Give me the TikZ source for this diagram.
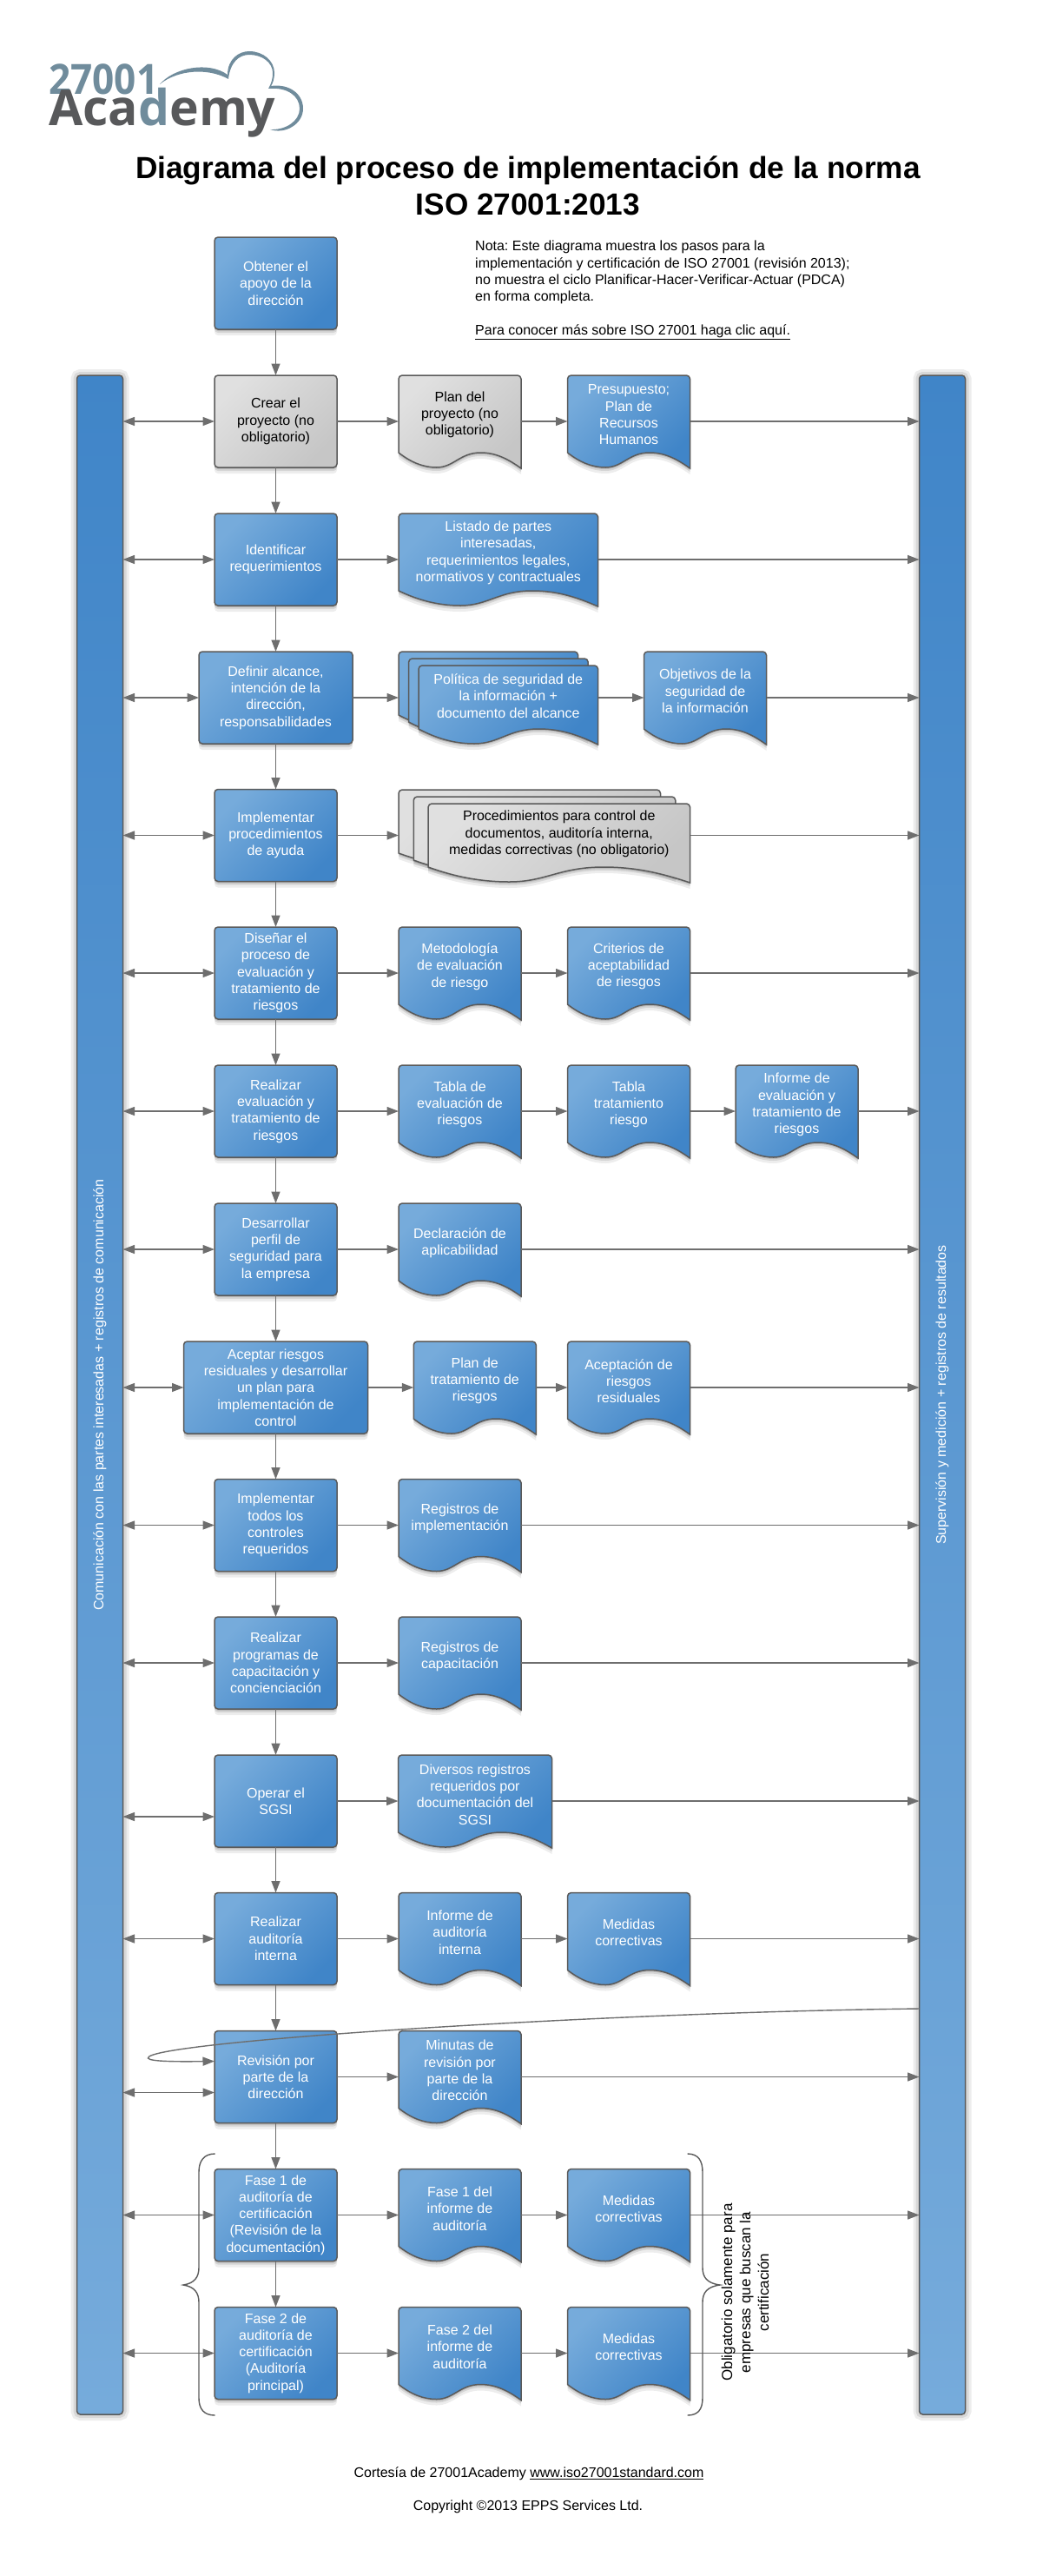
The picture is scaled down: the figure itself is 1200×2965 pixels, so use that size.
\documentclass[tikz,border=0pt]{standalone}
\usepackage{fontspec}
\usepackage{graphicx}
\setmainfont{Liberation Sans}
\newfontfamily\logofont{Open Sans}
\usetikzlibrary{shapes,arrows.meta,positioning,shadows}
\frenchspacing

\definecolor{bluelight}{HTML}{76ABDB}
\definecolor{bluedark}{HTML}{4085C8}
\definecolor{graylight}{HTML}{E0E0E0}
\definecolor{graydark}{HTML}{C6C6C6}
\definecolor{edgegray}{HTML}{5A5A5A}
\definecolor{linegray}{HTML}{6E6E6E}
\definecolor{logoblue}{HTML}{708C9C}
\definecolor{logogray}{HTML}{58595B}

\newdimen\docl
\newdimen\docr
\newdimen\doct
\newdimen\docb
\newdimen\docw
\newcommand{\docpt}[2]{\pgfqpoint{\dimexpr\docl+#1\docw\relax}{\dimexpr\docb+#2pt\relax}}
\tikzset{doc lift/.initial=7.5pt}

\makeatletter
\pgfdeclareshape{wavedoc}{
  \inheritsavedanchors[from=rectangle]
  \inheritanchorborder[from=rectangle]
  \inheritanchor[from=rectangle]{center}
  \inheritanchor[from=rectangle]{north}
  \inheritanchor[from=rectangle]{south}
  \inheritanchor[from=rectangle]{east}
  \inheritanchor[from=rectangle]{west}
  \anchor{text}{
    \pgfqpoint{0pt}{\pgfkeysvalueof{/tikz/doc lift}}
  }
  \backgroundpath{
    \southwest \docl=\pgf@x \docb=\pgf@y
    \northeast \docr=\pgf@x \doct=\pgf@y
    \docw=\docr \advance\docw by -\docl
    \pgfpathmoveto{\docpt{0}{17}}
    \pgfpathlineto{\pgfqpoint{\docl}{\dimexpr\doct-4pt\relax}}
    \pgfpathcurveto{\pgfqpoint{\docl}{\dimexpr\doct-2pt\relax}}{\pgfqpoint{\dimexpr\docl+2pt\relax}{\doct}}{\pgfqpoint{\dimexpr\docl+4pt\relax}{\doct}}
    \pgfpathlineto{\pgfqpoint{\dimexpr\docr-4pt\relax}{\doct}}
    \pgfpathcurveto{\pgfqpoint{\dimexpr\docr-2pt\relax}{\doct}}{\pgfqpoint{\docr}{\dimexpr\doct-2pt\relax}}{\pgfqpoint{\docr}{\dimexpr\doct-4pt\relax}}
    \pgfpathlineto{\docpt{1}{-1}}
    \pgfpathcurveto{\docpt{.9}{9}}{\docpt{.8}{17}}{\docpt{.67}{17}}
    \pgfpathcurveto{\docpt{.5}{17}}{\docpt{.45}{0}}{\docpt{.31}{0}}
    \pgfpathcurveto{\docpt{.2}{0}}{\docpt{.1}{6}}{\docpt{0}{17}}
    \pgfpathclose
  }
}
\makeatother

\begin{document}
\begin{tikzpicture}[
    x=1pt, y=-1pt,
    softshadow/.style={
        drop shadow={shadow xshift=0pt, shadow yshift=-2pt, opacity=.12, fill=black},
        drop shadow={shadow xshift=0pt, shadow yshift=-4pt, opacity=.10, fill=black},
        drop shadow={shadow xshift=0pt, shadow yshift=-7pt, opacity=.07, fill=black}},
    boxtext/.style={font=\fontsize{16}{19.3}\selectfont, align=center, inner sep=0pt, outer sep=0pt},
    block/.style={rectangle, rounded corners=4pt, draw=edgegray, line width=1.5pt, minimum width=141pt, minimum height=106pt,
        boxtext, softshadow, text=white, left color=bluelight, right color=bluedark, shading angle=45},
    grayblock/.style={block, text=black, left color=graylight, right color=graydark, shading angle=45},
    docu/.style={wavedoc, draw=edgegray, line width=1.5pt, minimum width=141pt, minimum height=106pt,
        boxtext, softshadow, text=white, left color=bluelight, right color=bluedark, shading angle=45},
    graydocu/.style={docu, text=black, left color=graylight, right color=graydark, shading angle=45},
    sidebar/.style={rectangle, rounded corners=4pt, draw=edgegray, line width=1.5pt, minimum width=53pt, minimum height=2347pt,
        outer sep=0pt, top color=bluedark, bottom color=bluelight,
        preaction={draw=black, draw opacity=.07, line width=14pt},
        preaction={draw=black, draw opacity=.09, line width=8pt}},
    barlabel/.style={boxtext, rotate=90, text=white},
    arrow/.style={-{Triangle[length=13.5pt, width=10pt]}, draw=linegray, line width=1.4pt},
    biarrow/.style={{Triangle[length=13.5pt, width=10pt]}-{Triangle[length=13.5pt, width=10pt]}, draw=linegray, line width=1.4pt},
    bracket/.style={draw=edgegray, line width=1.4pt}
]
\useasboundingbox (0,0) rectangle (1200,2965);

% Logo
\fill[logoblue] (184,97) .. controls (200,78) and (240,70) .. (262,86) .. controls (262,68) and (275,59) .. (287,59)
    .. controls (303,59) and (316,70) .. (316,84) .. controls (316,91) and (314,96) .. (312,99)
    .. controls (333,96) and (349,108) .. (349,125) .. controls (349,143) and (328,155) .. (311,149)
    .. controls (328,150) and (345,140) .. (345,125) .. controls (345,110) and (330,100) .. (309,102)
    .. controls (313,95) and (314,90) .. (314,84) .. controls (314,72) and (302,63) .. (287,63)
    .. controls (275,63) and (265,72) .. (263,91) .. controls (240,78) and (205,80) .. (184,97);
\node[anchor=base west, inner sep=0pt, text=logoblue] (logonum) at (56,109)
    {\scalebox{.92}[1]{\logofont\bfseries\fontsize{48}{48}\selectfont 27001}};
\node[anchor=base west, inner sep=0pt, text=logogray] (logoname) at (56,145)
    {\logofont\bfseries\fontsize{57}{57}\selectfont Aca\textcolor{logoblue}{d}emy};

% Title and note
\node[font=\bfseries\fontsize{35.2}{42}\selectfont, align=center, inner sep=0pt] (title) at (608,214)
    {Diagrama del proceso de implementación de la norma\\ISO 27001:2013};
\node[anchor=north west, font=\fontsize{16}{19.3}\selectfont, align=left, inner sep=0pt] (nota) at (547,277)
    {Nota: Este diagrama muestra los pasos para la\\
     implementación y certificación de ISO 27001 (revisión 2013);\\
     no muestra el ciclo Planificar-Hacer-Verificar-Actuar (PDCA)\\
     en forma completa.\\[19.3pt]
     \underline{Para conocer más sobre ISO 27001 haga clic aquí.}};

% Side bars
\node[sidebar] (barl) at (115,1605.5) {};
\node[sidebar] (barr) at (1085,1605.5) {};
\node[barlabel] (barltext) at (barl) {Comunicación con las partes interesadas + registros de comunicación};
\node[barlabel] (barrtext) at (barr) {Supervisión y medición + registros de resultados};

% Process column
\node[block] (obtener) at (317.5,326) {Obtener el\\apoyo de la\\dirección};
\node[grayblock] (crear) at (317.5,485) {Crear el\\proyecto (no\\obligatorio)};
\node[block] (identificar) at (317.5,644) {Identificar\\requerimientos};
\node[block, minimum width=177pt] (definir) at (317.5,803) {Definir alcance,\\intención de la\\dirección,\\responsabilidades};
\node[block] (ayuda) at (317.5,961.5) {Implementar\\procedimientos\\de ayuda};
\node[block] (disenar) at (317.5,1120) {Diseñar el\\proceso de\\evaluación y\\tratamiento de\\riesgos};
\node[block] (realizar) at (317.5,1279) {Realizar\\evaluación y\\tratamiento de\\riesgos};
\node[block] (perfil) at (317.5,1438) {Desarrollar\\perfil de\\seguridad para\\la empresa};
\node[block, minimum width=212pt] (aceptar) at (317.5,1597) {Aceptar riesgos\\residuales y desarrollar\\un plan para\\implementación de\\control};
\node[block] (controles) at (317.5,1755.5) {Implementar\\todos los\\controles\\requeridos};
\node[block] (programas) at (317.5,1914) {Realizar\\programas de\\capacitación y\\concienciación};
\node[block] (operar) at (317.5,2073) {Operar el\\SGSI};
\node[block] (auditoria) at (317.5,2231.5) {Realizar\\auditoría\\interna};
\node[block] (revision) at (317.5,2390.5) {Revisión por\\parte de la\\dirección};
\node[block] (fase1) at (317.5,2549.5) {Fase 1 de\\auditoría de\\certificación\\(Revisión de la\\documentación)};
\node[block] (fase2) at (317.5,2708.5) {Fase 2 de\\auditoría de\\certificación\\(Auditoría\\principal)};

% Documents
\node[graydocu] (plan) at (529.5,485) {Plan del\\proyecto (no\\obligatorio)};
\node[docu] (presupuesto) at (724,485) {Presupuesto;\\Plan de\\Recursos\\Humanos};
\node[docu, minimum width=229.5pt] (listado) at (573.8,644) {Listado de partes\\interesadas,\\requerimientos legales,\\normativos y contractuales};
\node[docu, minimum width=206.6pt, minimum height=90pt] (politica1) at (562.3,795) {};
\node[docu, minimum width=206.6pt, minimum height=90pt] (politica2) at (573.9,803) {};
\node[docu, minimum width=206.6pt, minimum height=90pt, doc lift=10pt] (politica3) at (585.3,811) {Política de seguridad de\\la información +\\documento del alcance};
\node[docu] (objetivos) at (812,803) {Objetivos de la\\seguridad de\\la información};
\node[graydocu, minimum width=301.5pt, minimum height=90pt] (proced1) at (609.75,954) {};
\node[graydocu, minimum width=301.5pt, minimum height=90pt] (proced2) at (627,962) {};
\node[graydocu, minimum width=301.5pt, minimum height=90pt, doc lift=10pt] (proced3) at (643.8,970) {Procedimientos para control de\\documentos, auditoría interna,\\medidas correctivas (no obligatorio)};
\node[docu] (metodologia) at (529.5,1120) {Metodología\\de evaluación\\de riesgo};
\node[docu] (criterios) at (724,1120) {Criterios de\\aceptabilidad\\de riesgos};
\node[docu] (tablaeval) at (529.5,1279) {Tabla de\\evaluación de\\riesgos};
\node[docu] (tablatrat) at (724,1279) {Tabla\\tratamiento\\riesgo};
\node[docu] (informe) at (917.5,1279) {Informe de\\evaluación y\\tratamiento de\\riesgos};
\node[docu] (declaracion) at (529.5,1438) {Declaración de\\aplicabilidad};
\node[docu] (plantrat) at (546.75,1597) {Plan de\\tratamiento de\\riesgos};
\node[docu] (aceptacion) at (724,1597) {Aceptación de\\riesgos\\residuales};
\node[docu] (regimpl) at (529.5,1755.5) {Registros de\\implementación};
\node[docu] (regcap) at (529.5,1914) {Registros de\\capacitación};
\node[docu, minimum width=177pt] (diversos) at (547,2073) {Diversos registros\\requeridos por\\documentación del\\SGSI};
\node[docu] (infaudit) at (529.5,2231.5) {Informe de\\auditoría\\interna};
\node[docu] (medidas) at (724,2231.5) {Medidas\\correctivas};
\node[docu] (minutas) at (529.5,2390.5) {Minutas de\\revisión por\\parte de la\\dirección};
\node[docu] (inffase1) at (529.5,2549.5) {Fase 1 del\\informe de\\auditoría};
\node[docu] (medfase1) at (724,2549.5) {Medidas\\correctivas};
\node[docu] (inffase2) at (529.5,2708.5) {Fase 2 del\\informe de\\auditoría};
\node[docu] (medfase2) at (724,2708.5) {Medidas\\correctivas};

% Main flow
\draw[arrow] (obtener) -- (crear);
\draw[arrow] (crear) -- (identificar);
\draw[arrow] (identificar) -- (definir);
\draw[arrow] (definir) -- (ayuda);
\draw[arrow] (ayuda) -- (disenar);
\draw[arrow] (disenar) -- (realizar);
\draw[arrow] (realizar) -- (perfil);
\draw[arrow] (perfil) -- (aceptar);
\draw[arrow] (aceptar) -- (controles);
\draw[arrow] (controles) -- (programas);
\draw[arrow] (programas) -- (operar);
\draw[arrow] (operar) -- (auditoria);
\draw[arrow] (auditoria) -- (revision);
\draw[arrow] (revision) -- (fase1);
\draw[arrow] (fase1) -- (fase2);

% Left bar
\coordinate (operarl) at (operar.west |- 0,2091);
\coordinate (revisionl) at (revision.west |- 0,2408.5);
\draw[biarrow] (barl.east |- crear.west) -- (crear.west);
\draw[biarrow] (barl.east |- identificar.west) -- (identificar.west);
\draw[biarrow] (barl.east |- definir.west) -- (definir.west);
\draw[biarrow] (barl.east |- ayuda.west) -- (ayuda.west);
\draw[biarrow] (barl.east |- disenar.west) -- (disenar.west);
\draw[biarrow] (barl.east |- realizar.west) -- (realizar.west);
\draw[biarrow] (barl.east |- perfil.west) -- (perfil.west);
\draw[biarrow] (barl.east |- aceptar.west) -- (aceptar.west);
\draw[biarrow] (barl.east |- controles.west) -- (controles.west);
\draw[biarrow] (barl.east |- programas.west) -- (programas.west);
\draw[biarrow] (barl.east |- operarl) -- (operarl);
\draw[biarrow] (barl.east |- auditoria.west) -- (auditoria.west);
\draw[biarrow] (barl.east |- revisionl) -- (revisionl);
\draw[biarrow] (barl.east |- fase1.west) -- (fase1.west);
\draw[biarrow] (barl.east |- fase2.west) -- (fase2.west);

% Outputs
\draw[arrow] (crear) -- (plan);
\draw[arrow] (plan) -- (presupuesto);
\draw[arrow] (presupuesto.east) -- (presupuesto.east -| barr.west);
\draw[arrow] (identificar) -- (listado);
\draw[arrow] (listado.east) -- (listado.east -| barr.west);
\draw[arrow] (definir.east) -- (definir.east -| politica1.west);
\draw[arrow] (politica3.east |- objetivos.west) -- (objetivos.west);
\draw[arrow] (objetivos.east) -- (objetivos.east -| barr.west);
\draw[arrow] (ayuda.east) -- (ayuda.east -| proced1.west);
\draw[arrow] (proced3.east |- ayuda.east) -- (ayuda.east -| barr.west);
\draw[arrow] (disenar) -- (metodologia);
\draw[arrow] (metodologia) -- (criterios);
\draw[arrow] (criterios.east) -- (criterios.east -| barr.west);
\draw[arrow] (realizar) -- (tablaeval);
\draw[arrow] (tablaeval) -- (tablatrat);
\draw[arrow] (tablatrat) -- (informe);
\draw[arrow] (informe.east) -- (informe.east -| barr.west);
\draw[arrow] (perfil) -- (declaracion);
\draw[arrow] (declaracion.east) -- (declaracion.east -| barr.west);
\draw[arrow] (aceptar) -- (plantrat);
\draw[arrow] (plantrat) -- (aceptacion);
\draw[arrow] (aceptacion.east) -- (aceptacion.east -| barr.west);
\draw[arrow] (controles) -- (regimpl);
\draw[arrow] (regimpl.east) -- (regimpl.east -| barr.west);
\draw[arrow] (programas) -- (regcap);
\draw[arrow] (regcap.east) -- (regcap.east -| barr.west);
\draw[arrow] (operar) -- (diversos);
\draw[arrow] (diversos.east) -- (diversos.east -| barr.west);
\draw[arrow] (auditoria) -- (infaudit);
\draw[arrow] (infaudit) -- (medidas);
\draw[arrow] (medidas.east) -- (medidas.east -| barr.west);
\draw[arrow] (revision) -- (minutas);
\draw[arrow] (minutas.east) -- (minutas.east -| barr.west);
\draw[arrow] (fase1) -- (inffase1);
\draw[arrow] (inffase1) -- (medfase1);
\draw[arrow] (medfase1.east) -- (medfase1.east -| barr.west);
\draw[arrow] (fase2) -- (inffase2);
\draw[arrow] (inffase2) -- (medfase2);
\draw[arrow] (medfase2.east) -- (medfase2.east -| barr.west);

% Feedback curve
\coordinate (curvestart) at (barr.west |- 0,2312);
\coordinate (curveend) at (revision.west |- 0,2372.5);
\draw[arrow] (curvestart) .. controls (700,2316) and (165,2350) .. (170.5,2369)
    .. controls (173,2373) and (205,2373) .. (curveend);

% Certification braces
\draw[bracket] (247.6,2479) .. controls (235,2479) and (229,2487) .. (229,2500) -- (229,2610)
    .. controls (229,2621) and (224,2628) .. (211,2630) .. controls (224,2632) and (229,2639) .. (229,2650)
    -- (229,2760) .. controls (229,2773) and (235,2780) .. (247.6,2780);
\draw[bracket] (791.6,2479) .. controls (804,2479) and (809,2487) .. (809,2500) -- (809,2610)
    .. controls (809,2621) and (814,2628) .. (829,2630) .. controls (814,2632) and (809,2639) .. (809,2650)
    -- (809,2760) .. controls (809,2773) and (804,2780) .. (791.6,2780);
\node[boxtext, rotate=90, font=\fontsize{17}{21}\selectfont] (obligatorio) at (858,2638.5)
    {Obligatorio solamente para\\empresas que buscan la\\certificación};

% Footer
\node[font=\fontsize{16}{19.3}\selectfont, inner sep=0pt] (cortesia) at (609,2847) {Cortesía de 27001Academy \underline{www.iso27001standard.com}};
\node[font=\fontsize{16}{19.3}\selectfont, inner sep=0pt] (copyright) at (608,2885) {Copyright ©2013 EPPS Services Ltd.};
\end{tikzpicture}
\end{document}
